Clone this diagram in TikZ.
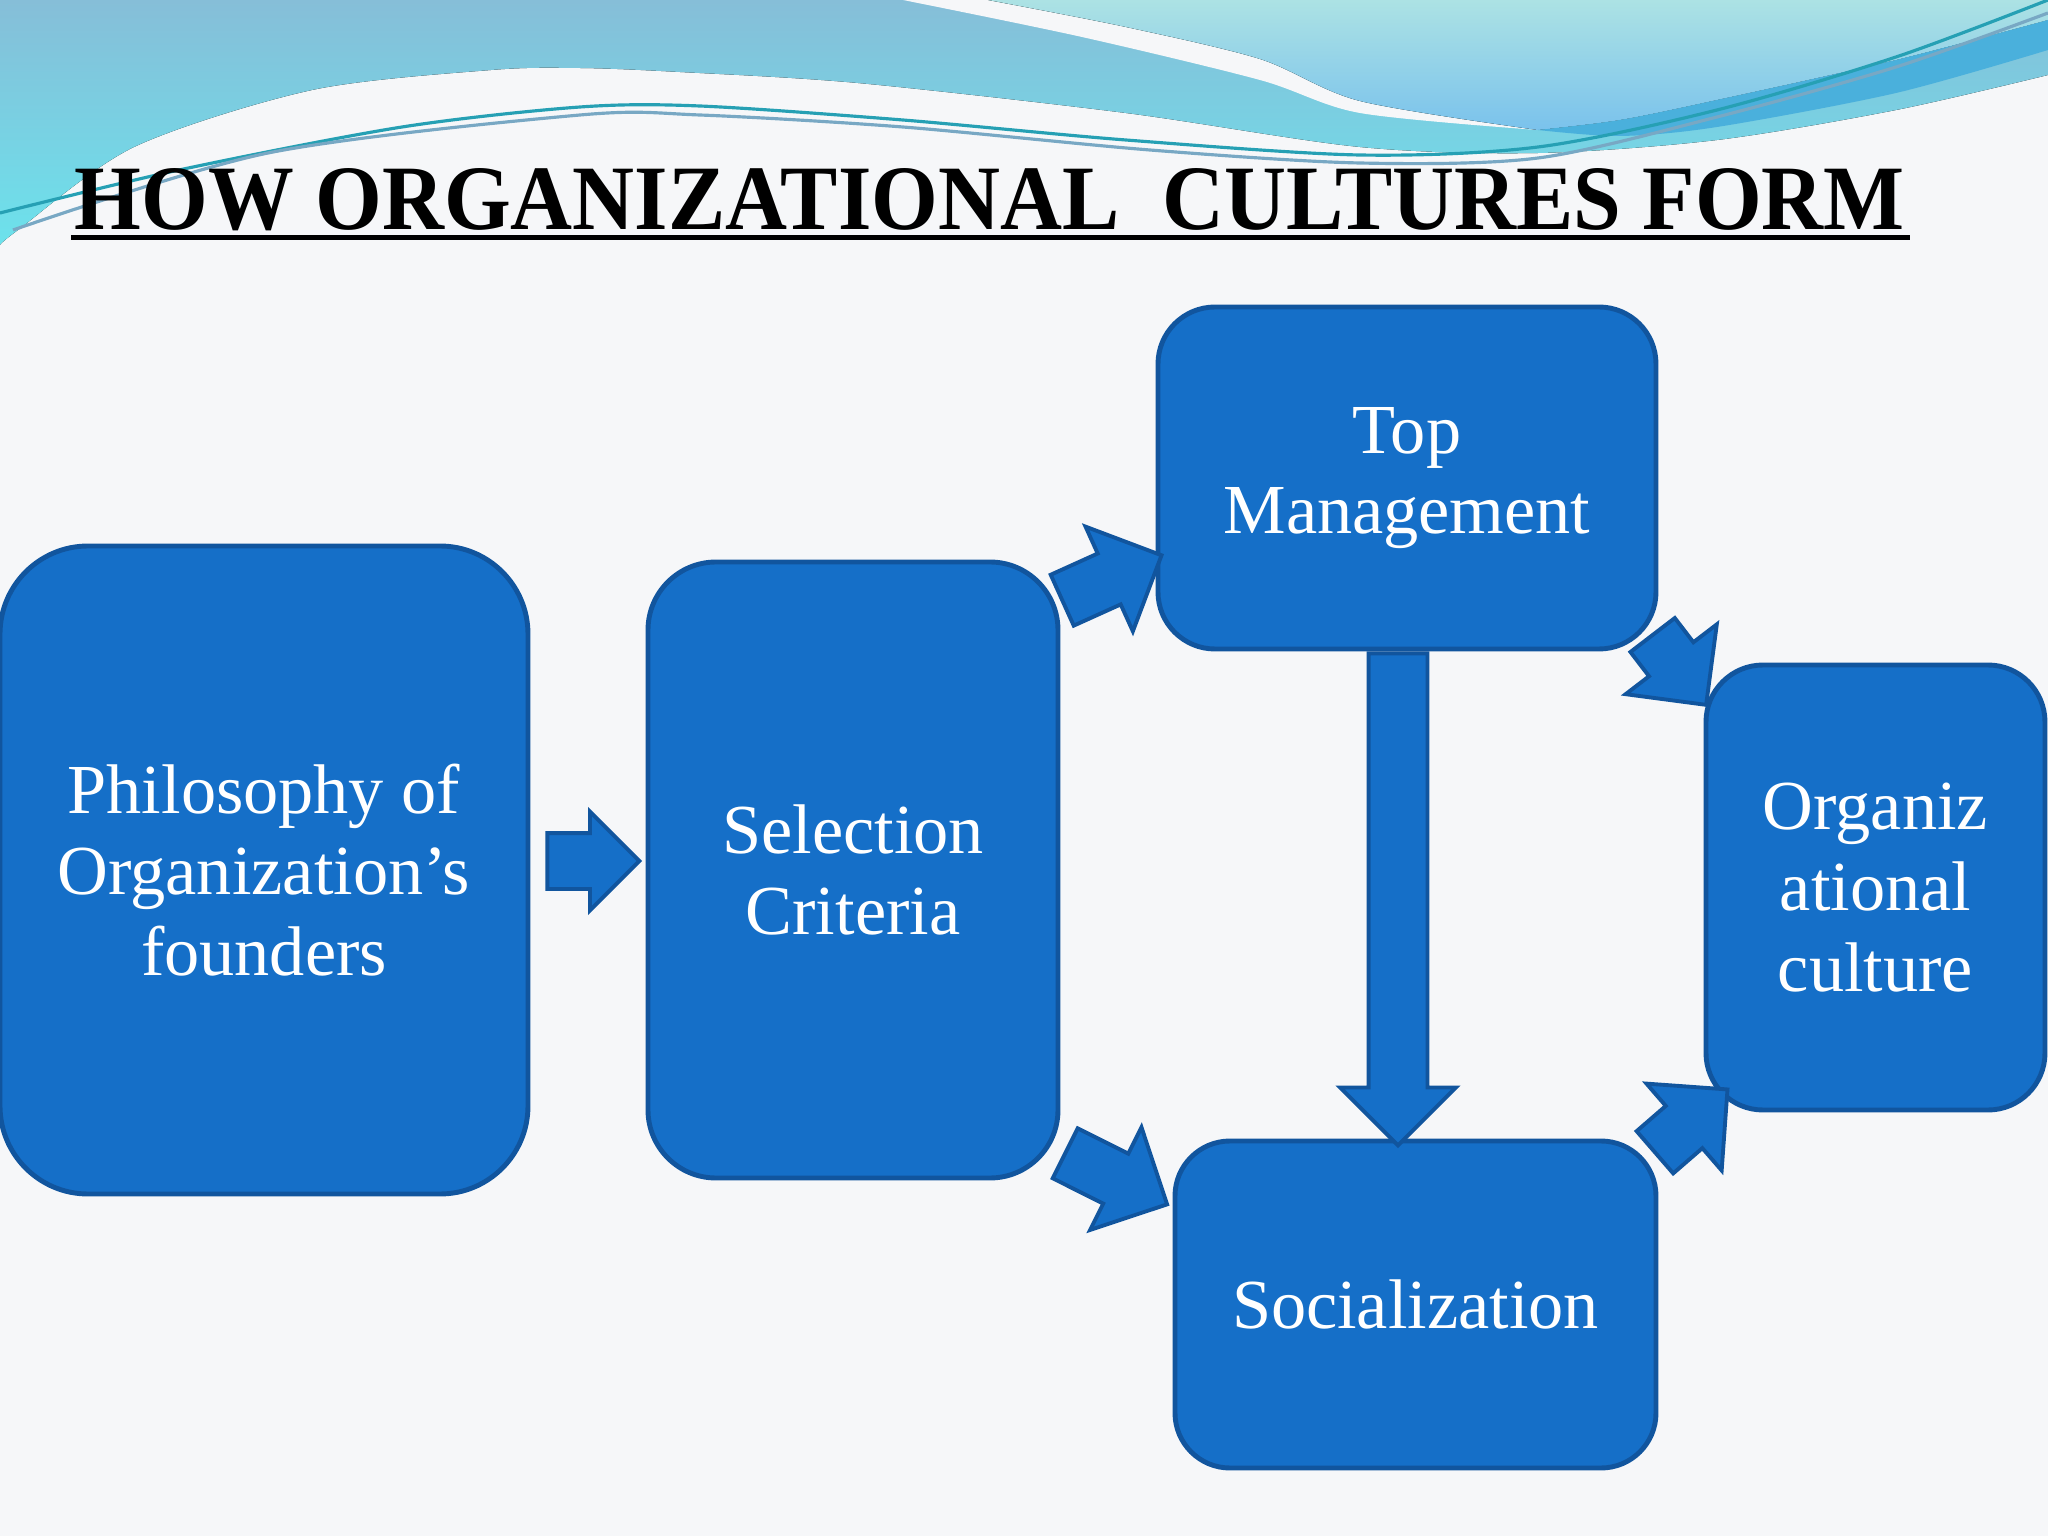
\documentclass[tikz,border=0pt]{standalone}
\usepackage{graphicx}
\usepackage{fontspec}
\setmainfont{Liberation Serif}
\usepackage{tikz}
\usetikzlibrary{shapes.arrows}
\usetikzlibrary{positioning}
\usetikzlibrary{calc}
\definecolor{boxblue}{RGB}{21,111,200}
\definecolor{boxline}{RGB}{17,85,158}
\definecolor{paper}{RGB}{246,247,249}
\definecolor{bandtop}{RGB}{134,190,216}
\definecolor{bandlow}{RGB}{108,226,236}
\definecolor{paletop}{RGB}{172,226,228}
\definecolor{palelow}{RGB}{122,194,236}
\definecolor{ribbon}{RGB}{74,176,220}
\definecolor{wavea}{RGB}{38,160,180}
\definecolor{waveb}{RGB}{120,168,196}

\begin{document}
\begin{tikzpicture}[internal/.style={draw=boxline, fill=boxblue, line width=1.4pt, rectangle, text=white, inner sep=0pt,
			font=\fontsize{20}{23}\selectfont},
			every text node part/.style={align=center},
			blockarrow/.style={single arrow, draw=boxline, fill=boxblue, line width=1.1pt, inner xsep=0pt, inner ysep=0.26cm,
			single arrow head extend=0.295cm, sloped, allow upside down, anchor=tail, pos=0}]
			% background and waves
			\fill[paper] (0,0) rectangle (20.48,-15.36);
			\useasboundingbox (0,0) rectangle (20.48,-15.36);
			\fill[top color=bandtop, bottom color=bandlow] (0,0) -- (20.48,0) -- plot[smooth] coordinates {(20.48,-0.75) (18.96,-1.10) (17.17,-1.40) (15.38,-1.53) (13.60,-1.47) (11.26,-1.13) (8.58,-0.83) (6.80,-0.72) (5.80,-0.68) (4.91,-0.70) (3.12,-0.90) (1.34,-1.47) (0.18,-2.30) (0,-2.45)} -- cycle;
			\fill[paper] plot[smooth] coordinates {(9.03,0) (10.82,-0.37) (12.6,-0.80) (13.6,-1.13) (15.38,-1.30)} -- plot[smooth] coordinates {(15.38,-1.30) (13.6,-1.01) (12.6,-0.59) (11.26,-0.27) (9.88,0)} -- cycle;
			\fill[top color=paletop, bottom color=palelow] (9.88,0) -- (20.48,0) -- plot[smooth] coordinates {(20.48,-0.20) (18.96,-0.60) (17.17,-1.00) (16.2,-1.20) (15.38,-1.30)} -- plot[smooth] coordinates {(15.38,-1.30) (13.6,-1.01) (12.6,-0.59) (11.26,-0.27) (9.88,0)} -- cycle;
			\fill[ribbon] plot[smooth] coordinates {(15.38,-1.30) (16.2,-1.20) (17.17,-1.00) (18.96,-0.60) (20.48,-0.20)} -- plot[smooth] coordinates {(20.48,-0.50) (18.96,-0.93) (17.17,-1.27) (16.2,-1.36) (15.38,-1.30)} -- cycle;
			\draw[wavea, line width=0.9pt] plot[smooth] coordinates {(0,-2.13) (1.79,-1.70) (4.02,-1.27) (5.80,-1.07) (7.0,-1.06) (9.03,-1.20) (11.26,-1.40) (13.6,-1.55) (15.38,-1.47) (17.17,-1.10) (18.96,-0.57) (20.48,0)};
			\draw[waveb, line width=0.9pt] plot[smooth] coordinates {(0.13,-2.30) (2.68,-1.53) (5.80,-1.15) (7.0,-1.15) (9.03,-1.27) (11.5,-1.50) (13.6,-1.63) (15.38,-1.58) (17.17,-1.17) (18.96,-0.67) (20.48,-0.13)};
			
			% title
			\node[anchor=base west, inner sep=0pt] (title) at (0.74,-2.30) {\resizebox{18.30cm}{0.61cm}{\bfseries HOW ORGANIZATIONAL\ \ CULTURES FORM}};
			\draw[line width=0.05cm] ([xshift=-0.03cm, yshift=-0.075cm]title.base west) -- ([xshift=0.04cm, yshift=-0.075cm]title.base east);
			
			% boxes
			\node[internal, minimum width=5.28cm, minimum height=6.48cm, rounded corners=0.88cm](phil) at (2.64, -8.70) {Philosophy of\\Organization’s\\founders};
			\node[internal, minimum width=4.10cm, minimum height=6.16cm, rounded corners=0.68cm](select) at (8.53, -8.70) {Selection\\Criteria};
			\node[internal, minimum width=4.98cm, minimum height=3.42cm, rounded corners=0.57cm](topmgmt) at (14.07, -4.78) {Top\\Management};
			\node[internal, minimum width=4.81cm, minimum height=3.27cm, rounded corners=0.55cm](social) at (14.155, -13.045) {Socialization};
			\node[internal, minimum width=3.39cm, minimum height=4.45cm, rounded corners=0.57cm](culture) at (18.755, -8.875) {Organiz\\ational\\culture};
			
			% block arrows
			\path ($(phil.east)+(0.15,0.09)$) -- ($(select.west)+(-0.13,0.09)$) node[blockarrow, minimum height=0.92cm, single arrow head extend=0.215cm] (arr1) {};
			\path ($(select.east)+(0,2.69)$) -- ($(topmgmt.west)+(0,-0.80)$) node[blockarrow, minimum height=1.09cm] (arr2) {};
			\path ($(select.south east)+(0.03,0.28)$) -- ($(social.north west)+(-0.13,-0.62)$) node[blockarrow, minimum height=1.14cm] (arr3) {};
			\path ($(topmgmt.south east)+(-0.07,0.18)$) -- ($(culture.north west)+(-0.03,-0.35)$) node[blockarrow, minimum height=0.88cm] (arr4) {};
			\path ($(social.north east)+(-0.05,-0.15)$) -- ($(culture.south west)+(0.17,0.17)$) node[blockarrow, minimum height=0.96cm] (arr5) {};
			\path ($(topmgmt.south)+(-0.09,0)$) -- ($(social.north)+(-0.175,0)$) node[blockarrow, minimum height=4.92cm, inner ysep=0.275cm, single arrow head extend=0.285cm] (arr6) {};
		\end{tikzpicture}
\end{document}
